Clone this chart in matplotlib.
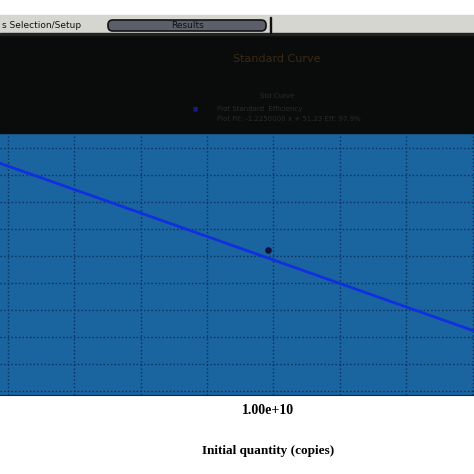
import matplotlib
matplotlib.use("Agg")
import matplotlib.pyplot as plt
import numpy as np
from matplotlib.patches import Rectangle, FancyBboxPatch

log_qty = [10.0]
cq = [19.53]
slope = -3.2
intercept = 51.23
xlim = (8.87, 10.87)
ylim = (14, 24)

W = H = 474
fig = plt.figure(figsize=(4.74, 4.74), dpi=100)
fig.patch.set_facecolor("white")
def fy(p): return 1 - p / H
def fx(p): return p / W

fig.patches.append(Rectangle((0, fy(34)), 1, fy(15) - fy(34), transform=fig.transFigure, color="#d6d6d0", zorder=0))
fig.patches.append(Rectangle((0, fy(35)), 1, 0.004, transform=fig.transFigure, color="#222", zorder=1))
fig.patches.append(FancyBboxPatch((fx(108), fy(31)), fx(158), fy(20) - fy(31), boxstyle="round,pad=0,rounding_size=0.01",
                                  transform=fig.transFigure, fc="#5a5f6a", ec="#111", lw=1.2, zorder=2))
fig.patches.append(Rectangle((fx(270), fy(33)), 0.003, fy(17) - fy(33), transform=fig.transFigure, color="#111", zorder=2))
fig.patches.append(Rectangle((0, fy(133)), 1, fy(35) - fy(133), transform=fig.transFigure, color="#0a0b0b", zorder=0))
fig.text(fx(2), fy(25), "s Selection/Setup", fontsize=6.5, va="center", color="#111")
fig.text(fx(187), fy(25), "Results", fontsize=6.5, va="center", ha="center", color="#111")
fig.text(fx(277), fy(59), "Standard Curve", fontsize=8, ha="center", va="center", color="#3a2a1a")
fig.text(fx(277), fy(96), "Std Curve", fontsize=5, ha="center", va="center", color="#2a2a2a")
fig.text(fx(195), fy(109), "■", fontsize=4, ha="center", va="center", color="#1a1a8a")
fig.text(fx(217), fy(109), "Plot Standard  Efficiency", fontsize=5, va="center", color="#2a2a2a")
fig.text(fx(217), fy(119), "Plot Fit: -1.2250000 x + 51.23 Eff: 97.9%", fontsize=5, va="center", color="#2a2a2a")

ax = fig.add_axes([0, fy(395), 1, fy(133) - fy(395)])
ax.set_facecolor("#1a64a0")
xs = np.array(xlim)
ax.plot(xs, slope * xs + intercept, color="#1030e0", lw=2)
ax.scatter(log_qty, cq, color="#101040", s=14, zorder=3)
ax.set_xlim(*xlim); ax.set_ylim(*ylim)
ax.set_xticks(8.904 + 0.28 * np.arange(8))
ax.set_yticks(23.43 - 1.03 * np.arange(10))
ax.grid(True, color="#0a3060", ls=":", lw=1)
ax.tick_params(length=0, labelleft=False, labelbottom=False)
for s in ax.spines.values(): s.set_visible(False)
ax.spines["bottom"].set_visible(True); ax.spines["bottom"].set_color("#222")

fig.text(fx(268), fy(411), "1.00e+10", fontsize=10, ha="center", va="center", family="Liberation Serif", weight="bold")
fig.text(fx(268), fy(451), "Initial quantity (copies)", fontsize=9.5, ha="center", va="center", family="Liberation Serif", weight="bold")
fig.savefig("out.png", dpi=100)
